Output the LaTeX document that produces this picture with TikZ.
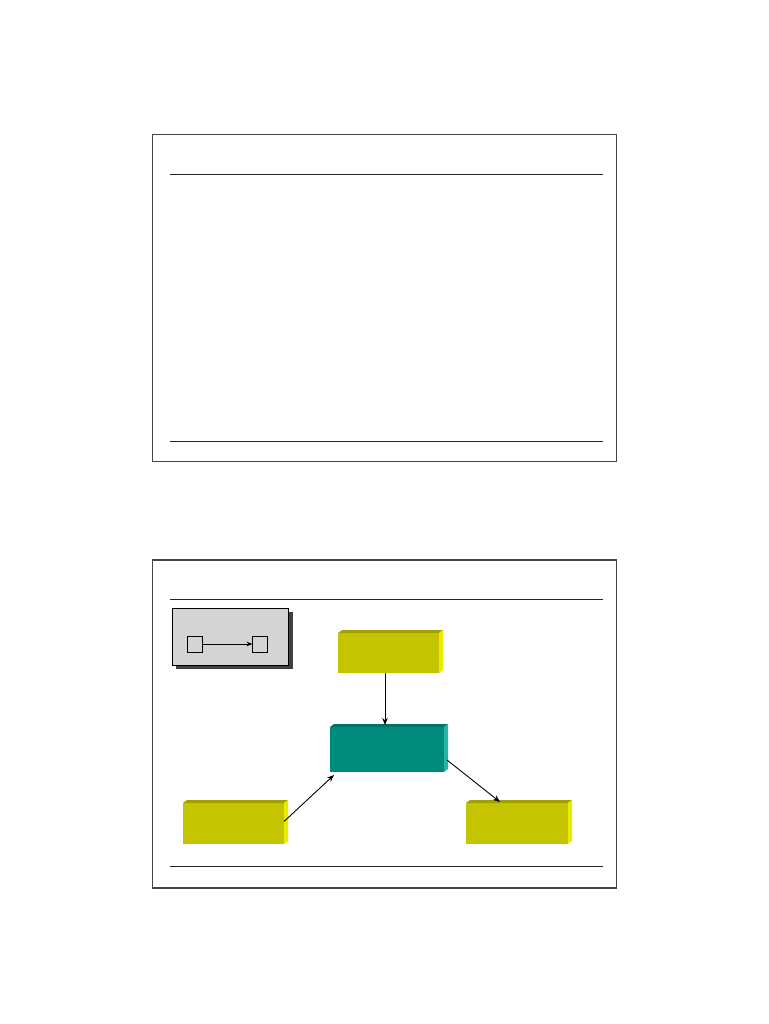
\documentclass[tikz,border=0pt]{standalone}
\usetikzlibrary{arrows.meta}
\definecolor{yelface}{RGB}{196,196,0}
\definecolor{yeltop}{RGB}{160,160,0}
\definecolor{yelside}{RGB}{235,235,0}
\definecolor{tealface}{RGB}{0,140,125}
\definecolor{tealtop}{RGB}{0,115,100}
\definecolor{tealside}{RGB}{40,180,165}
\definecolor{slideedge}{RGB}{70,70,70}
\definecolor{legfill}{RGB}{212,212,212}
\definecolor{legshadow}{RGB}{64,64,64}
\tikzset{
  slide/.style={draw=slideedge, line width=1.2pt, fill=white},
  rule/.style={draw=black!85, line width=0.9pt},
  block/.style={inner sep=0pt, outer sep=0pt, draw=none},
  arr/.style={draw=black, line width=0.9pt, -{Stealth[length=7pt,width=5.5pt]}},
  minibox/.style={draw=black, line width=0.8pt, fill=legfill, minimum width=15pt, minimum height=16pt, inner sep=0pt, outer sep=0pt}
}
\begin{document}
\begin{tikzpicture}[x=1pt,y=-1pt]
\useasboundingbox (0,0) rectangle (768,1024);
\fill[white] (0,0) rectangle (768,1024);
% top slide
\node[slide, minimum width=464pt, minimum height=327pt, inner sep=0pt, outer sep=0pt] (slideA) at (384.5,298.25) {};
\coordinate (ra1) at (170,174.5);
\coordinate (ra2) at (603,174.5);
\draw[rule] (ra1) -- (ra2);
\coordinate (rb1) at (170,441);
\coordinate (rb2) at (603,441);
\draw[rule] (rb1) -- (rb2);
% bottom slide
\node[slide, minimum width=464pt, minimum height=328pt, inner sep=0pt, outer sep=0pt] (slideB) at (384.5,724) {};
\coordinate (rc1) at (170,599.5);
\coordinate (rc2) at (603,599.5);
\draw[rule] (rc1) -- (rc2);
\coordinate (rd1) at (170,866);
\coordinate (rd2) at (603,866);
\draw[rule] (rd1) -- (rd2);
% legend
\fill[legshadow] (176,612) rectangle (293,669);
\node[draw=black, line width=0.9pt, fill=legfill, minimum width=116pt, minimum height=57pt, inner sep=0pt, outer sep=0pt] (legend) at (230,636.5) {};
\node[minibox] (s1) at (194.5,644) {};
\node[minibox] (s2) at (260,644) {};
\draw[draw=black, line width=0.8pt, -{Stealth[length=6pt,width=4.5pt]}] (s1.east) -- (s2.west);
% blocks
\node[block, fill=yelface, minimum width=101pt, minimum height=40pt] (top) at (388.5,653) {};
\node[block, fill=tealface, minimum width=114pt, minimum height=45pt] (mid) at (387,749.5) {};
\node[block, fill=yelface, minimum width=101pt, minimum height=41pt] (lb) at (233.5,823.5) {};
\node[block, fill=yelface, minimum width=102pt, minimum height=41pt] (rb) at (517,823.5) {};
% bevels
\foreach \n/\tc/\sc in {top/yeltop/yelside, lb/yeltop/yelside, rb/yeltop/yelside, mid/tealtop/tealside}{
  \fill[\tc] (\n.north west) -- ([xshift=4pt,yshift=3pt]\n.north west) -- ([xshift=4pt,yshift=3pt]\n.north east) -- (\n.north east) -- cycle;
  \fill[\sc] (\n.north east) -- ([xshift=4pt,yshift=3pt]\n.north east) -- ([xshift=4pt,yshift=3pt]\n.south east) -- (\n.south east) -- cycle;
}
% connectors
\draw[arr] ([xshift=-3.5pt]top.south) -- ([xshift=-2pt,yshift=2pt]mid.north);
\draw[arr] ([yshift=2pt]lb.east) -- ([xshift=4pt,yshift=-3pt]mid.south west);
\draw[arr] ([xshift=3pt,yshift=12pt]mid.south east) -- ([xshift=-17pt,yshift=1pt]rb.north);
\end{tikzpicture}
\end{document}
